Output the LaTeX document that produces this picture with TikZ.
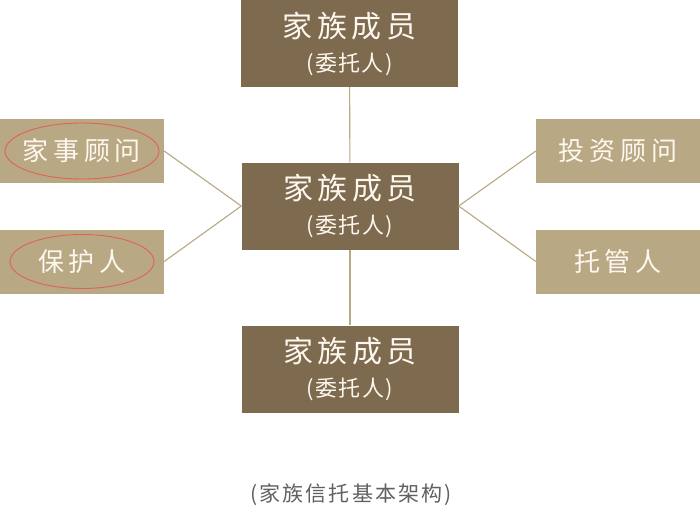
\documentclass[tikz,border=0pt]{standalone}
\usepackage{fontspec}
\newfontfamily\cjk{Noto Sans CJK SC}
\definecolor{darkbrown}{HTML}{7E6A4E}
\definecolor{lighttan}{HTML}{B9A884}
\definecolor{ringred}{HTML}{E0605A}
\definecolor{cream}{HTML}{FDF8EF}
\tikzset{
  member/.style={rectangle, fill=darkbrown, text=cream, inner sep=0pt,
    minimum width=217pt, minimum height=87pt, align=center,
    font=\cjk\fontsize{30}{34}\selectfont},
  party/.style={rectangle, fill=lighttan, text=cream, inner sep=0pt,
    minimum width=164pt, minimum height=64pt, font=\cjk\fontsize{26}{26}\selectfont\addfontfeature{LetterSpace=18}},
  link/.style={draw=lighttan, line width=1.1pt},
  ring/.style={draw=ringred, line width=0.9pt}
}
\newcommand{\memberlabel}{{\addfontfeature{LetterSpace=15}家族成员}\\
  {\fontsize{22}{34}\selectfont\addfontfeature{LetterSpace=6}(委托人)}}
\begin{document}
\begin{tikzpicture}[x=1pt, y=-1pt, font=\cjk]
  \useasboundingbox[fill=white] (0,0) rectangle (700,530);
  \node[member] (top) at (349.5,43.5) {\memberlabel};
  \node[member] (mid) at (350,206) {\memberlabel};
  \node[member] (bot) at (350,369) {\memberlabel};
  \node[party] (adviser) at (82,151) {家事顾问};
  \node[party] (protector) at (82,261.5) {保护人};
  \node[party] (invest) at (618,151) {投资顾问};
  \node[party] (custodian) at (618,261.5) {托管人};
  \draw[link] (top) -- (mid);
  \draw[link] (mid) -- (bot);
  \draw[link] (adviser.east) -- (mid.west);
  \draw[link] (protector.east) -- (mid.west);
  \draw[link] (invest.west) -- (mid.east);
  \draw[link] (custodian.west) -- (mid.east);
  \draw[ring] (adviser.center) ellipse [x radius=77pt, y radius=28pt];
  \draw[ring] (protector.center) ellipse [x radius=72pt, y radius=27pt];
  \node[text=black!62, font=\cjk\fontsize{21}{21}\selectfont\addfontfeature{LetterSpace=10}] (caption) at (351,495) {(家族信托基本架构)};
\end{tikzpicture}
\end{document}
